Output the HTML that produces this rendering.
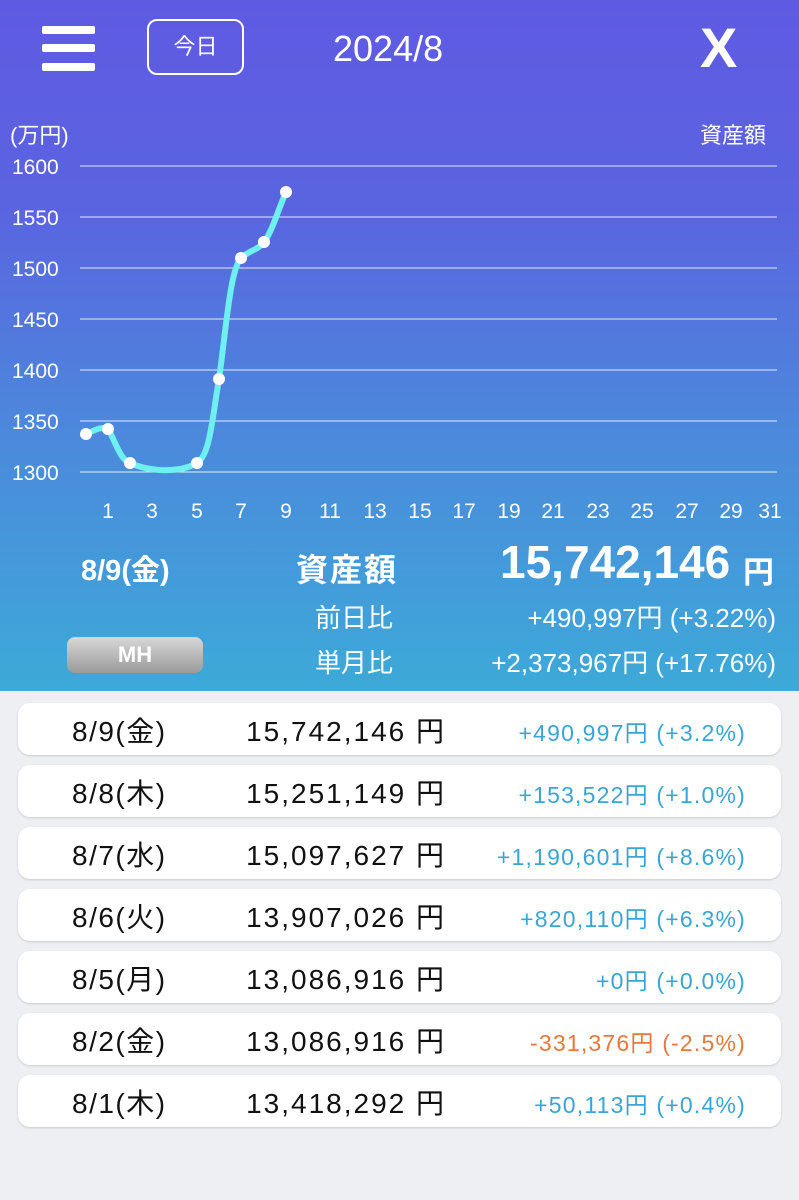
<!DOCTYPE html>
<html><head><meta charset="utf-8"><style>
*{margin:0;padding:0;box-sizing:border-box}
body{width:799px;height:1200px;overflow:hidden;background:#eeeff2;font-family:"Liberation Sans","Noto Sans CJK JP",sans-serif;position:relative}
.top{position:absolute;left:0;top:0;width:799px;height:691px;background:linear-gradient(#5f5ae3 0%,#5a64e0 30%,#4d86dc 60%,#3caad8 100%)}
.a{position:absolute;color:#fff;white-space:nowrap}
.card{position:absolute;left:18px;width:763px;height:52px;background:#fff;border-radius:12px;box-shadow:0 1px 2px rgba(0,0,0,.15)}
.card span{position:absolute;top:7px;font-size:28px;color:#111;white-space:nowrap}
.card .d{left:54px;letter-spacing:1.5px}
.card .v{right:335px;letter-spacing:2px}
.card .c{right:35px;font-size:23px;top:11px;color:#3aa5d4;letter-spacing:1.2px}
</style></head><body>
<div class="top"></div>
<div style="position:absolute;left:42px;top:26px;width:53px;height:8px;background:#fff;border-radius:2px"></div>
<div style="position:absolute;left:42px;top:44px;width:53px;height:8px;background:#fff;border-radius:2px"></div>
<div style="position:absolute;left:42px;top:63px;width:53px;height:8px;background:#fff;border-radius:2px"></div>
<div style="position:absolute;left:147px;top:19px;width:97px;height:56px;border:2px solid #fff;border-radius:10px;color:#fff;font-size:22px;text-align:center;line-height:52px">今日</div>
<div class="a" style="left:333px;top:28px;font-size:36px">2024/8</div>
<div class="a" style="left:700px;top:20px;font-size:56px;font-weight:bold;line-height:56px">X</div>
<div class="a" style="left:10px;top:118px;font-size:22px">(万円)</div>
<div class="a" style="left:700px;top:118px;font-size:22px">資産額</div>
<svg style="position:absolute;left:0;top:0" width="799" height="530">
<g stroke="#fff" stroke-width="1" opacity=".85">
<line x1="80" y1="166" x2="777" y2="166"/><line x1="80" y1="217" x2="777" y2="217"/><line x1="80" y1="268" x2="777" y2="268"/><line x1="80" y1="319" x2="777" y2="319"/><line x1="80" y1="370" x2="777" y2="370"/><line x1="80" y1="421" x2="777" y2="421"/><line x1="80" y1="472" x2="777" y2="472"/></g>
<g fill="#fff" font-size="21" font-family="Liberation Sans,sans-serif">
<text x="12" y="174">1600</text><text x="12" y="225">1550</text><text x="12" y="276">1500</text><text x="12" y="327">1450</text><text x="12" y="378">1400</text><text x="12" y="429">1350</text><text x="12" y="480">1300</text>
<g text-anchor="middle"><text x="108" y="518">1</text><text x="152" y="518">3</text><text x="197" y="518">5</text><text x="241" y="518">7</text><text x="286" y="518">9</text><text x="330" y="518">11</text><text x="375" y="518">13</text><text x="420" y="518">15</text><text x="464" y="518">17</text><text x="509" y="518">19</text><text x="553" y="518">21</text><text x="598" y="518">23</text><text x="642" y="518">25</text><text x="687" y="518">27</text><text x="731" y="518">29</text><text x="770" y="518">31</text></g></g>
<path d="M86,434 C95,430 102,426 108,429 C115,440 120,460 130,463 C150,472 180,473 197,463 C210,455 212,420 219,379 C226,330 230,270 241,258 C250,250 258,250 264,242 C272,232 278,210 286,192" fill="none" stroke="#6ef0ee" stroke-width="6" stroke-linecap="round"/>
<g fill="#fff"><circle cx="86" cy="434" r="6"/><circle cx="108" cy="429" r="6"/><circle cx="130" cy="463" r="6"/><circle cx="197" cy="463" r="6"/><circle cx="219" cy="379" r="6"/><circle cx="241" cy="258" r="6"/><circle cx="264" cy="242" r="6"/><circle cx="286" cy="192" r="6"/></g>
</svg>
<div class="a" style="left:81px;top:547px;font-size:29px;font-weight:bold">8/9(金)</div>
<div class="a" style="left:296px;top:545px;font-size:32px;font-weight:bold;letter-spacing:2px">資産額</div>
<div class="a" style="left:500px;top:535px;font-size:46px;font-weight:bold">15,742,146</div>
<div class="a" style="left:743px;top:547px;font-size:31px;font-weight:bold">円</div>
<div class="a" style="left:315px;top:598px;font-size:26px">前日比</div>
<div class="a" style="right:23px;top:598px;font-size:26px">+490,997円 (+3.22%)</div>
<div class="a" style="left:315px;top:643px;font-size:26px">単月比</div>
<div class="a" style="right:23px;top:643px;font-size:26px">+2,373,967円 (+17.76%)</div>
<div style="position:absolute;left:67px;top:637px;width:136px;height:36px;border-radius:8px;background:linear-gradient(#d8d8d8,#9a9a9a);color:#fff;font-weight:bold;font-size:22px;text-align:center;line-height:36px">MH</div>
<div class="card" style="top:703px"><span class="d">8/9(金)</span><span class="v">15,742,146 円</span><span class="c">+490,997円 (+3.2%)</span></div>
<div class="card" style="top:765px"><span class="d">8/8(木)</span><span class="v">15,251,149 円</span><span class="c">+153,522円 (+1.0%)</span></div>
<div class="card" style="top:827px"><span class="d">8/7(水)</span><span class="v">15,097,627 円</span><span class="c">+1,190,601円 (+8.6%)</span></div>
<div class="card" style="top:889px"><span class="d">8/6(火)</span><span class="v">13,907,026 円</span><span class="c">+820,110円 (+6.3%)</span></div>
<div class="card" style="top:951px"><span class="d">8/5(月)</span><span class="v">13,086,916 円</span><span class="c">+0円 (+0.0%)</span></div>
<div class="card" style="top:1013px"><span class="d">8/2(金)</span><span class="v">13,086,916 円</span><span class="c" style="color:#e8773a">-331,376円 (-2.5%)</span></div>
<div class="card" style="top:1075px"><span class="d">8/1(木)</span><span class="v">13,418,292 円</span><span class="c">+50,113円 (+0.4%)</span></div>
</body></html>
